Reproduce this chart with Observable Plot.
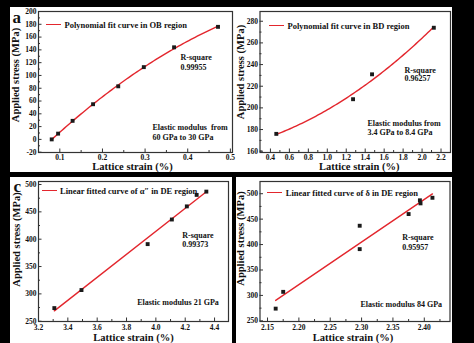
<!DOCTYPE html>
<html><head><meta charset="utf-8">
<script src="https://cdn.jsdelivr.net/npm/d3@7"></script>
<script src="https://cdn.jsdelivr.net/npm/@observablehq/plot@0.6"></script>
<style>
html,body{margin:0;padding:0;background:#000;}
#fig{position:relative;width:474px;height:343px;background:#000;overflow:hidden;font-family:"Liberation Serif","Times New Roman",serif;}
.panel{position:absolute;background:#fff;overflow:hidden;}
.panel svg{display:block;}
.legline{position:absolute;height:0;border-top:1.4px solid #e3262d;}
</style></head><body><div id="fig"></div>
<script>
// ---- data ----
const strainA = [0.081, 0.096, 0.130, 0.178, 0.237, 0.297, 0.368, 0.471];
const stressA = [0, 9, 29, 55, 83, 113, 144, 176];
const strainB = [0.462, 1.272, 1.472, 2.124];
const stressB = [176, 208, 231, 274];
const strainC = [3.308, 3.493, 3.944, 4.109, 4.211, 4.278, 4.344];
const stressC = [274, 307, 391, 436, 460, 481, 487];
const strainD = [2.163, 2.175, 2.297, 2.297, 2.375, 2.393, 2.394, 2.413];
const stressD = [274, 307, 437, 391, 460, 487, 481, 492];

// ---- tick labels ----
const xTicksA = [0.1, 0.2, 0.3, 0.4, 0.5];
const xLabelsA = ["0.1", "0.2", "0.3", "0.4", "0.5"];
const yTicksA = [-20, 0, 20, 40, 60, 80, 100, 120, 140, 160, 180, 200];
const yLabelsA = ["-20", "0", "20", "40", "60", "80", "100", "120", "140", "160", "180", "200"];
const xTicksB = [0.4, 0.6, 0.8, 1.0, 1.2, 1.4, 1.6, 1.8, 2.0, 2.2];
const xLabelsB = ["0.4", "0.6", "0.8", "1.0", "1.2", "1.4", "1.6", "1.8", "2.0", "2.2"];
const yTicksB = [160, 180, 200, 220, 240, 260, 280];
const yLabelsB = ["160", "180", "200", "220", "240", "260", "280"];
const xTicksC = [3.2, 3.4, 3.6, 3.8, 4.0, 4.2, 4.4];
const xLabelsC = ["3.2", "3.4", "3.6", "3.8", "4.0", "4.2", "4.4"];
const yTicksC = [250, 300, 350, 400, 450, 500];
const yLabelsC = ["250", "300", "350", "400", "450", "500"];
const xTicksD = [2.15, 2.20, 2.25, 2.30, 2.35, 2.40];
const xLabelsD = ["2.15", "2.20", "2.25", "2.30", "2.35", "2.40"];
const yTicksD = [250, 300, 350, 400, 450, 500];
const yLabelsD = ["250", "300", "350", "400", "450", "500"];

// ---- texts ----
const legendA = "Polynomial fit curve in OB region";
const legendB = "Polynomial fit curve in BD region";
const legendC = "Linear fitted curve of α\u2033 in DE region";
const legendD = "Linear fitted curve of δ in DE region";
const xTitle = "Lattice strain (%)";
const yTitle = "Applied stress (MPa)";

const RED = "#e3262d";
const INK = "#111";
const FONT = "'Liberation Serif','Times New Roman',serif";

function rows(xs, ys) { return xs.map((x, i) => ({x, y: ys[i]})); }

// least-squares quadratic fit of the data (the "polynomial fit")
function polyfit2(xs, ys) {
  const S = [0,0,0,0,0], T = [0,0,0];
  xs.forEach((x, i) => { let p = 1; for (let k = 0; k < 5; k++) { S[k] += p; if (k < 3) T[k] += p * ys[i]; p *= x; } });
  const A = [[S[0],S[1],S[2],T[0]],[S[1],S[2],S[3],T[1]],[S[2],S[3],S[4],T[2]]];
  for (let c = 0; c < 3; c++) {
    let m = c; for (let r = c+1; r < 3; r++) if (Math.abs(A[r][c]) > Math.abs(A[m][c])) m = r;
    [A[c], A[m]] = [A[m], A[c]];
    for (let r = 0; r < 3; r++) if (r !== c) { const f = A[r][c] / A[c][c]; for (let k = c; k < 4; k++) A[r][k] -= f * A[c][k]; }
  }
  const coef = [A[0][3]/A[0][0], A[1][3]/A[1][1], A[2][3]/A[2][2]];
  return x => coef[0] + coef[1]*x + coef[2]*x*x;
}
function fitCurve(xs, ys) {
  const f = polyfit2(xs, ys);
  const [x0, x1] = d3.extent(xs);
  return d3.range(81).map(i => { const x = x0 + (x1 - x0) * i / 80; return {x, y: f(x)}; });
}
function minorOf(ticks, domain) {
  const step = ticks[1] - ticks[0];
  const out = [];
  for (let v = ticks[0] - step / 2; v <= domain[1] + 1e-9; v += step) if (v >= domain[0] - 1e-9) out.push(v);
  return out;
}

const fig = document.getElementById("fig");

function makePanel(p) {
  const fw = p.width - p.mL - p.mR, fh = p.height - p.mT - p.mB;
  const xmap = new Map(p.xTicks.map((t, i) => [t, p.xLabels[i]]));
  const ymap = new Map(p.yTicks.map((t, i) => [t, p.yLabels[i]]));
  const data = rows(p.xs, p.ys);
  const fitMark = p.poly
    ? Plot.line(fitCurve(p.xs, p.ys), {x: "x", y: "y", stroke: RED, strokeWidth: 1.4, curve: "linear"})
    : Plot.linearRegressionY(data, {x: "x", y: "y", stroke: RED, strokeWidth: 1.4, ci: 0});
  const note = (t, dx, dy, size = 8) => Plot.text([t], {text: d => d, frameAnchor: "top-left", dx, dy, textAnchor: "start", lineAnchor: "middle", fontSize: size, fontWeight: "bold", fill: INK});
  const marks = [
    Plot.tickX(minorOf(p.xTicks, p.xDomain), {x: d => d, insetTop: fh - 2, stroke: "#333", strokeWidth: 1}),
    Plot.tickX(p.xTicks, {x: d => d, insetTop: fh - 3.5, stroke: "#333", strokeWidth: 1}),
    Plot.tickY(minorOf(p.yTicks, p.yDomain), {y: d => d, insetRight: fw - 2, stroke: "#333", strokeWidth: 1}),
    Plot.tickY(p.yTicks, {y: d => d, insetRight: fw - 3.5, stroke: "#333", strokeWidth: 1}),
    Plot.axisX(p.xTicks, {tickSize: 0, tickPadding: p.xPad, tickFormat: d => xmap.get(d), fontSize: 7.5, label: null, fill: INK}),
    Plot.axisY(p.yTicks, {tickSize: 0, tickPadding: 2, tickFormat: d => ymap.get(d), fontSize: 7.5, label: null, fill: INK}),
    Plot.frame({stroke: "#333", strokeWidth: 1.2}),
    fitMark,
    Plot.dot(data, {x: "x", y: "y", symbol: "square", r: 2.2, fill: "#1a1a1a"}),
    Plot.text([xTitle], {text: d => d, frameAnchor: "bottom", dx: p.xTitleDx, dy: p.xTitleDy, textAnchor: "middle", lineAnchor: "middle", fontSize: 10.5, fontWeight: "bold", fill: INK}),
    Plot.text([yTitle], {text: d => d, frameAnchor: "left", dx: p.yTitleDx, dy: p.yTitleDy, rotate: -90, textAnchor: "middle", lineAnchor: "middle", fontSize: 10.5, fontWeight: "bold", fill: INK}),
    note(p.legend, p.legendPos[0], p.legendPos[1], 8.5),
    ...p.notes.map(n => note(n[0], n[1], n[2]))
  ];
  if (p.letter) marks.push(Plot.text([p.letter], {text: d => d, frameAnchor: "top-left", dx: p.letterPos[0], dy: p.letterPos[1], textAnchor: "start", lineAnchor: "middle", fontSize: 17, fontWeight: "bold", fill: INK}));
  const svg = Plot.plot({
    width: p.width, height: p.height,
    marginLeft: p.mL, marginRight: p.mR, marginTop: p.mT, marginBottom: p.mB,
    x: {type: "linear", domain: p.xDomain},
    y: {type: "linear", domain: p.yDomain},
    style: {background: "transparent", fontFamily: FONT, fontWeight: "bold", color: INK},
    marks
  });
  const div = document.createElement("div");
  div.className = "panel";
  Object.assign(div.style, {left: p.left + "px", top: p.top + "px", width: p.width + "px", height: p.height + "px"});
  div.appendChild(svg);
  const ln = document.createElement("div");
  ln.className = "legline";
  Object.assign(ln.style, {left: (p.mL + p.legendPos[0] - 18) + "px", top: (p.mT + p.legendPos[1] - 0.7) + "px", width: "15px"});
  div.appendChild(ln);
  fig.appendChild(div);
}

makePanel({left: 10, top: 7, width: 226, height: 165, mL: 28, mT: 4, mR: 4, mB: 20,
  xDomain: [0.05, 0.505], yDomain: [-20.5, 200], xTicks: xTicksA, xLabels: xLabelsA, yTicks: yTicksA, yLabels: yLabelsA,
  xs: strainA, ys: stressA, poly: true, xPad: 2.5,
  xTitleDx: -3, xTitleDy: 14.5, yTitleDx: -23, yTitleDy: -7,
  legend: legendA, legendPos: [26, 14],
  notes: [["R-square", 142, 46], ["0.99955", 142, 55.5], ["Elastic modulus  from", 114, 116], ["60 GPa to 30 GPa", 114, 126]],
  letter: "a", letterPos: [-26, 6]});

makePanel({left: 236, top: 7, width: 216, height: 165, mL: 23.5, mT: 4, mR: 2, mB: 20,
  xDomain: [0.29, 2.3], yDomain: [158.8, 289], xTicks: xTicksB, xLabels: xLabelsB, yTicks: yTicksB, yLabels: yLabelsB,
  xs: strainB, ys: stressB, poly: true, xPad: 2,
  xTitleDx: 4, xTitleDy: 13.7, yTitleDx: -19.5, yTitleDy: -10,
  legend: legendB, legendPos: [27.5, 15],
  notes: [["R-square", 144.5, 58.5], ["0.96257", 144.5, 67], ["Elastic modulus from", 107.5, 112], ["3.4 GPa to 8.4 GPa", 107.5, 121]]});

makePanel({left: 10, top: 177, width: 222, height: 166, mL: 28, mT: 4, mR: 4, mB: 22,
  xDomain: [3.2, 4.495], yDomain: [249.5, 505.5], xTicks: xTicksC, xLabels: xLabelsC, yTicks: yTicksC, yLabels: yLabelsC,
  xs: strainC, ys: stressC, poly: false, xPad: 3,
  xTitleDx: 0, xTitleDy: 16.5, yTitleDx: -21.5, yTitleDy: -12,
  legend: legendC, legendPos: [21.5, 10],
  notes: [["R-square", 143.7, 54.3], ["0.99373", 143.7, 62.5], ["Elastic modulus 21 GPa", 98.7, 121]],
  letter: "c", letterPos: [-25, 5.5]});

makePanel({left: 236, top: 177, width: 216, height: 166, mL: 23.5, mT: 4, mR: 2.5, mB: 22,
  xDomain: [2.138, 2.441], yDomain: [248.7, 524], xTicks: xTicksD, xLabels: xLabelsD, yTicks: yTicksD, yLabels: yLabelsD,
  xs: strainD, ys: stressD, poly: false, xPad: 3,
  xTitleDx: -2, xTitleDy: 16.5, yTitleDx: -19.5, yTitleDy: -13,
  legend: legendD, legendPos: [25.8, 11.7],
  notes: [["R-square", 142.2, 56], ["0.95957", 142.2, 66], ["Elastic modulus 84 GPa", 100.5, 122.7]]});
</script></body></html>
